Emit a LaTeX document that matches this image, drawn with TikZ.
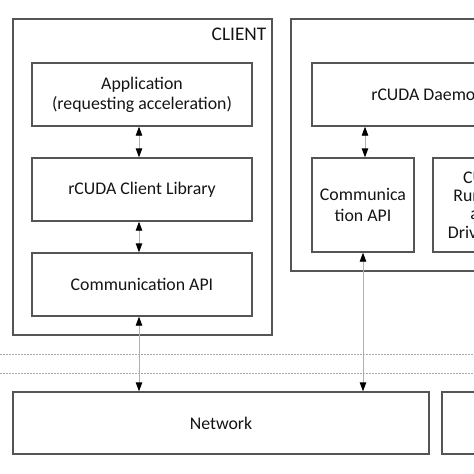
\documentclass[tikz,border=0pt]{standalone}
\usepackage{fontspec}
\setmainfont{Carlito}
\usetikzlibrary{arrows.meta}
\definecolor{boxline}{RGB}{85,85,85}
\definecolor{txt}{RGB}{20,20,20}
\definecolor{conn}{RGB}{175,175,175}
\definecolor{dotc}{RGB}{170,170,170}
\tikzset{
  box/.style={draw=boxline, line width=1.4pt, rectangle, inner sep=0pt, text=txt,
    font=\fontsize{17.8}{20}\selectfont, align=center},
  link/.style={draw=conn, line width=0.9pt, {Triangle[width=6.5pt,length=9pt,black]}-{Triangle[width=6.5pt,length=9pt,black]}},
  sep/.style={draw=dotc, line width=0.8pt, dash pattern=on 1.6pt off 1.4pt},
}
\begin{document}
\begin{tikzpicture}[x=1pt,y=-1pt]
\useasboundingbox (0,0) rectangle (474,474);
\clip (0,0) rectangle (474,474);
% containers
\node[box, minimum width=259pt, minimum height=316pt] (client) at (142.5,177) {};
\node[box, minimum width=259pt, minimum height=252pt] (server) at (420.5,145) {};
\node[font=\fontsize{19.3}{20}\selectfont, text=txt, anchor=base east, inner sep=0pt] (clientlbl) at (266.5,40.9) {CLIENT};
% client stack
\node[box, minimum width=220pt, minimum height=63pt] (app) at (142,94.5) {Application\\(requesting acceleration)};
\node[box, minimum width=220pt, minimum height=63pt] (lib) at (142,189.5) {rCUDA Client Library};
\node[box, minimum width=220pt, minimum height=63pt] (commc) at (142,284.5) {Communication API};
% server stack
\node[box, minimum width=232pt, minimum height=63pt] (daemon) at (428,94.5) {rCUDA Daemon};
\node[box, minimum width=102pt, minimum height=94pt, font=\fontsize{17.8}{21.7}\selectfont] (comms) at (363,205) {Communica\\tion API};
\node[box, minimum width=102pt, minimum height=94pt, font=\fontsize{17.8}{18.3}\selectfont] (cuda) at (484,205) {CUDA\\Runtime\\and\\Driver API};
% network row
\node[box, minimum width=416pt, minimum height=62pt] (net) at (221,423) {Network};
\node[box, minimum width=416pt, minimum height=62pt] (net2) at (650,423) {};
% separators
\coordinate (sepA1) at (0,354);
\coordinate (sepA2) at (474,354);
\coordinate (sepB1) at (0,373);
\coordinate (sepB2) at (474,373);
\draw[sep] (sepA1) -- (sepA2);
\draw[sep] (sepB1) -- (sepB2);
% links
\draw[link] ([xshift=-3pt]app.south) -- ([xshift=-3pt]lib.north);
\draw[link] ([xshift=-3pt]lib.south) -- ([xshift=-3pt]commc.north);
\draw[link] ([xshift=-3pt]commc.south) -- ([xshift=-3pt]commc.south |- net.north);
\draw[link] ([xshift=2pt]comms.north |- daemon.south) -- ([xshift=2pt]comms.north);
\draw[link] (comms.south) -- (comms.south |- net.north);
\end{tikzpicture}
\end{document}
